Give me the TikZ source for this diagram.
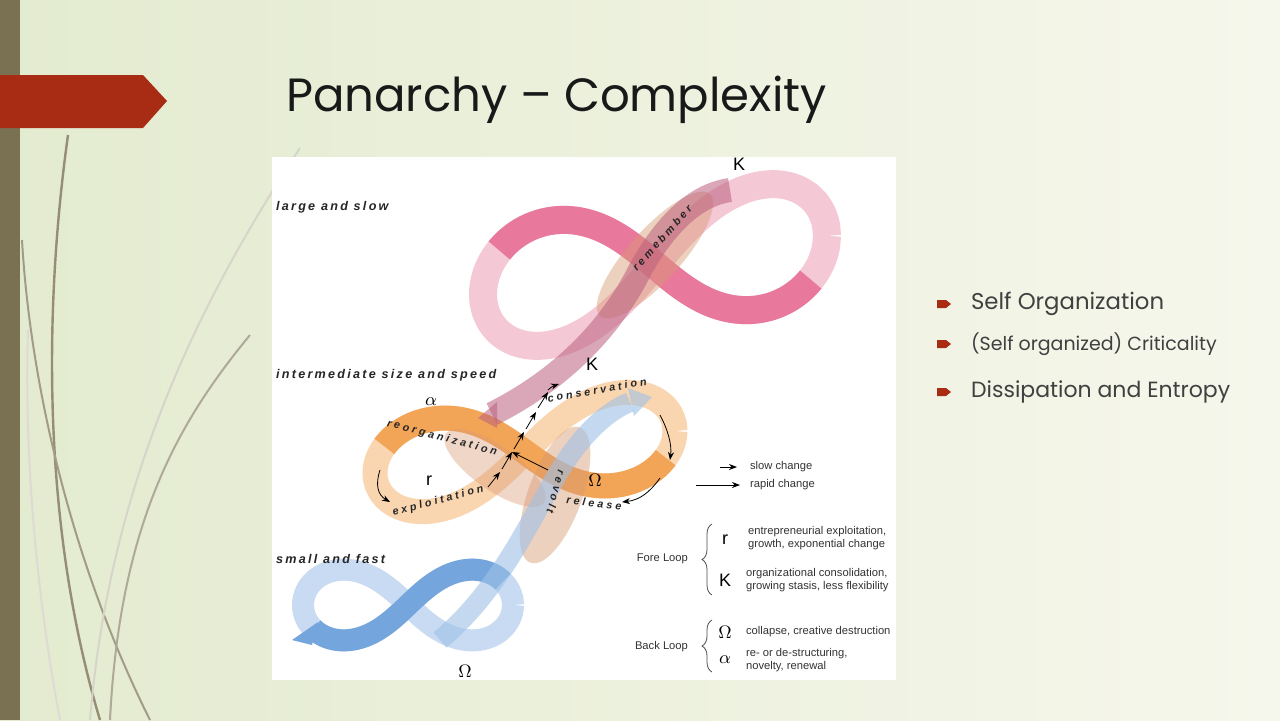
\documentclass[tikz,border=0pt]{standalone}
\usepackage{fontspec}
\setmainfont{Liberation Sans}
\newfontfamily\titlef{Poppins}
\newfontfamily\spacedf[LetterSpace=18]{Liberation Sans}
\usetikzlibrary{arrows.meta,decorations.pathreplacing}
\definecolor{bgL}{HTML}{E3EBCF}
\definecolor{bgR}{HTML}{F6F7EC}
\definecolor{olive}{HTML}{7A7052}
\definecolor{rust}{HTML}{A82C14}
\definecolor{pinkL}{HTML}{F5C8D6}
\definecolor{pinkD}{HTML}{E8789C}
\definecolor{orL}{HTML}{FAD6B0}
\definecolor{orD}{HTML}{F2A457}
\definecolor{blL}{HTML}{C9DBF2}
\definecolor{blD}{HTML}{74A6DD}
\definecolor{txt}{HTML}{404040}
\newcommand\lemni[8]{\draw[#8] plot[domain=#6:#7,samples=90,smooth] ({#1+#3*cos(\x)/(1+pow(sin(\x),2))},{#2+#4*sin(\x)*cos(\x)/(1+pow(sin(\x),2))-#5*#3*cos(\x)/(1+pow(sin(\x),2))});}
\tikzset{
 lvl/.style={anchor=west,font=\spacedf\itshape\bfseries\fontsize{6.3}{7}\selectfont,text=black!85},
 sym/.style={font=\fontsize{9}{10}\selectfont},
 leg/.style={anchor=west,font=\fontsize{5.6}{6.6}\selectfont,text=black!80,align=left},
 onloop/.style={font=\bfseries\itshape\fontsize{5.4}{7}\selectfont,text=black!85},
 bullet/.style={anchor=west,text=txt},
 small/.style={-{Stealth[length=4pt]},thin,black},
}
\begin{document}
\begin{tikzpicture}[x=0.5pt,y=-0.5pt]
\path[use as bounding box] (0,0) rectangle (1280,720);
\shade[left color=bgL,right color=bgR] (0,0) rectangle (1280,720);
% grass
\draw[olive!80,line width=1.2pt] (100,720) .. controls (40,520) and (45,300) .. (68,135);
\draw[olive!70,line width=1pt] (150,720) .. controls (70,560) and (30,380) .. (22,240);
\draw[olive!60,line width=1pt] (110,720) .. controls (120,520) and (180,420) .. (250,335);
\draw[olive!30,line width=1pt] (90,720) .. controls (110,480) and (200,300) .. (300,148);
\draw[olive!25,line width=1pt] (60,720) .. controls (30,560) and (25,420) .. (28,330);
\fill[olive] (0,0) rectangle (20,720);
\fill[rust] (0,75) -- (143,75) -- (167,101) -- (143,128) -- (0,128) -- cycle;
\node[anchor=west,font=\titlef\fontsize{23.3}{26}\selectfont,text=black!90] (title) at (279,100) {Panarchy – Complexity};
% panel
\fill[white] (272,157) rectangle (896,680);
% pink loop
\lemni{655}{265}{172}{175}{0.17}{0}{360}{pinkL,line width=14pt}
\lemni{655}{265}{172}{175}{0.17}{15}{165}{pinkD,line width=14pt}
% orange loop
\lemni{525}{452}{150}{130}{0.14}{0}{360}{orL,line width=12.5pt}
\lemni{525}{452}{150}{130}{0.14}{12}{168}{orD,line width=12.5pt}
% blue loop
\lemni{408}{605}{105}{100}{0.0}{0}{360}{blL,line width=11pt}
\lemni{408}{605}{105}{100}{0.0}{195}{345}{blD,line width=11pt}
\fill[blD] (292,640) -- (318,622) -- (312,645) -- cycle;
% remember band
\fill[brown!60!pink,opacity=.45,rotate around={48:(655,255)}] (655,255) ellipse (82 and 26);
\draw[pinkD!80!black,opacity=.55,line width=12pt] (492,414) .. controls (560,380) and (610,330) .. (640,270) .. controls (665,225) and (695,195) .. (730,190);
\fill[pinkD!80!black,opacity=.55] (478,418) -- (497,402) -- (497,428) -- cycle;
% orange crossing ellipse
\fill[brown!60!pink,opacity=.4,rotate around={-35:(495,468)}] (495,468) ellipse (60 and 22);
% revolt
\fill[brown!60!pink,opacity=.45,rotate around={70:(555,495)}] (555,495) ellipse (72 and 27);
\draw[blD!70,opacity=.6,line width=10pt] (440,640) .. controls (500,590) and (530,520) .. (560,470) .. controls (585,430) and (610,410) .. (630,402);
\fill[blD!70,opacity=.6] (652,397) -- (628,388) -- (634,416) -- cycle;
% small arrows
\foreach \s/\e in {{(488,487)}/{(500,472)},{(502,469)}/{(512,452)},{(514,449)}/{(524,432)},{(526,429)}/{(536,412)},{(538,408)}/{(548,392)}}
  \draw[small] \s -- \e;
\draw[small] (548,390) .. controls (552,386) and (556,385) .. (559,384);
\draw[small] (380,470) .. controls (375,485) and (378,495) .. (390,502);
\draw[small] (660,415) .. controls (668,430) and (672,445) .. (670,460);
\draw[small] (660,478) .. controls (650,492) and (640,500) .. (622,502);
\draw[small] (548,470) -- (512,452);
% on-loop labels
\node[onloop,rotate=-15] (reorg) at (442,438) {r e o r g a n i z a t i o n};
\node[onloop,rotate=15] (expl) at (438,501) {e x p l o i t a t i o n};
\node[onloop,rotate=10] (cons) at (597,390) {c o n s e r v a t i o n};
\node[onloop,rotate=-6] (rel) at (594,503) {r e l e a s e};
\node[onloop,rotate=-105] (revolt) at (556,492) {r e v o l t};
\node[onloop,rotate=48] (rem) at (662,238) {r e m e b m b e r};
% symbols
\node[sym] (K1) at (739,164) {K};
\node[sym] (K2) at (592,364) {K};
\node[sym] (a1) at (431,402) {$\alpha$};
\node[sym] (r1) at (429,481) {r};
\node[sym] (O1) at (595,480) {$\Omega$};
\node[sym] (O2) at (465,671) {$\Omega$};
% level labels
\node[lvl] (l1) at (269,207) {large and slow};
\node[lvl] (l2) at (269,375) {intermediate size and speed};
\node[lvl] (l3) at (269,559) {small and fast};
% legend
\draw[small] (720,467) -- (737,467);
\draw[small] (696,485) -- (740,485);
\node[leg] (sl) at (743,467) {slow change};
\node[leg] (rc) at (743,485) {rapid change};
\node[leg,anchor=east] (fore) at (695,559) {Fore Loop};
\draw[thin,black!70,decorate,decoration={brace,amplitude=5pt}] (712,595) -- (712,524);
\node[sym] (r2) at (725,540) {r};
\node[sym] (K3) at (725,580) {K};
\node[leg] (t1) at (741,538) {entrepreneurial exploitation,\\growth, exponential change};
\node[leg] (t2) at (739,580) {organizational consolidation,\\growing stasis, less flexibility};
\node[leg,anchor=east] (back) at (695,647) {Back Loop};
\draw[thin,black!70,decorate,decoration={brace,amplitude=5pt}] (712,672) -- (712,620);
\node[sym] (O3) at (725,632) {$\Omega$};
\node[sym] (a2) at (725,660) {$\alpha$};
\node[leg] (t3) at (739,632) {collapse, creative destruction};
\node[leg] (t4) at (739,660) {re- or de-structuring,\\novelty, renewal};
% bullets
\foreach \yy in {304,344,392} \fill[rust] (937,\yy-4) -- (946,\yy-4) -- (951,\yy) -- (946,\yy+4) -- (937,\yy+4) -- cycle;
\node[bullet,font=\titlef\fontsize{11.4}{13}\selectfont] (b1) at (964,304) {Self Organization};
\node[bullet,font=\titlef\fontsize{9.5}{11}\selectfont] (b2) at (964,344) {(Self organized) Criticality};
\node[bullet,font=\titlef\fontsize{11}{13}\selectfont] (b3) at (964,392) {Dissipation and Entropy};
\end{tikzpicture}
\end{document}
